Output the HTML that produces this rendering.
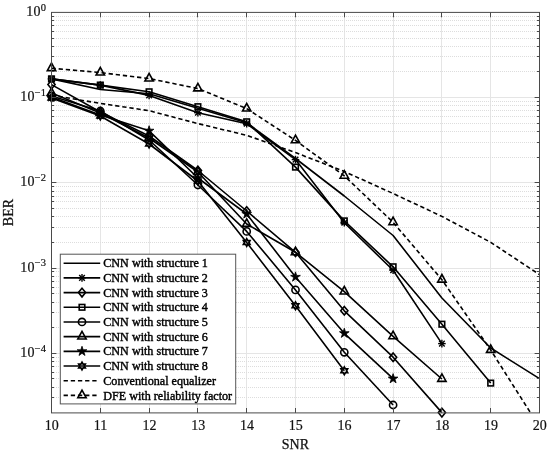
<!DOCTYPE html>
<html><head><meta charset="utf-8"><title>BER vs SNR</title>
<style>html,body{margin:0;padding:0;background:#fff;overflow:hidden}body{width:550px;height:453px;position:relative}</style></head>
<body>
<svg width="550" height="453" viewBox="0 0 550 453" style="display:block;position:absolute;left:0;top:0" font-family="'Liberation Serif', serif">
<rect width="550" height="453" fill="#fff"/>
<line x1="100.50" y1="12.4" x2="100.50" y2="412.9" stroke="#e5e5e5" stroke-width="1"/>
<line x1="149.50" y1="12.4" x2="149.50" y2="412.9" stroke="#e5e5e5" stroke-width="1"/>
<line x1="197.50" y1="12.4" x2="197.50" y2="412.9" stroke="#e5e5e5" stroke-width="1"/>
<line x1="246.50" y1="12.4" x2="246.50" y2="412.9" stroke="#e5e5e5" stroke-width="1"/>
<line x1="295.50" y1="12.4" x2="295.50" y2="412.9" stroke="#e5e5e5" stroke-width="1"/>
<line x1="344.50" y1="12.4" x2="344.50" y2="412.9" stroke="#e5e5e5" stroke-width="1"/>
<line x1="393.50" y1="12.4" x2="393.50" y2="412.9" stroke="#e5e5e5" stroke-width="1"/>
<line x1="441.50" y1="12.4" x2="441.50" y2="412.9" stroke="#e5e5e5" stroke-width="1"/>
<line x1="490.50" y1="12.4" x2="490.50" y2="412.9" stroke="#e5e5e5" stroke-width="1"/>
<line x1="52" y1="71.50" x2="539.5" y2="71.50" stroke="#dddddd" stroke-width="1" stroke-dasharray="1 1"/>
<line x1="52" y1="56.50" x2="539.5" y2="56.50" stroke="#dddddd" stroke-width="1" stroke-dasharray="1 1"/>
<line x1="52" y1="46.50" x2="539.5" y2="46.50" stroke="#dddddd" stroke-width="1" stroke-dasharray="1 1"/>
<line x1="52" y1="38.50" x2="539.5" y2="38.50" stroke="#dddddd" stroke-width="1" stroke-dasharray="1 1"/>
<line x1="52" y1="31.50" x2="539.5" y2="31.50" stroke="#dddddd" stroke-width="1" stroke-dasharray="1 1"/>
<line x1="52" y1="25.50" x2="539.5" y2="25.50" stroke="#dddddd" stroke-width="1" stroke-dasharray="1 1"/>
<line x1="52" y1="20.50" x2="539.5" y2="20.50" stroke="#dddddd" stroke-width="1" stroke-dasharray="1 1"/>
<line x1="52" y1="16.50" x2="539.5" y2="16.50" stroke="#dddddd" stroke-width="1" stroke-dasharray="1 1"/>
<line x1="51.5" y1="97.50" x2="539.5" y2="97.50" stroke="#e5e5e5" stroke-width="1"/>
<line x1="52" y1="157.50" x2="539.5" y2="157.50" stroke="#dddddd" stroke-width="1" stroke-dasharray="1 1"/>
<line x1="52" y1="142.50" x2="539.5" y2="142.50" stroke="#dddddd" stroke-width="1" stroke-dasharray="1 1"/>
<line x1="52" y1="131.50" x2="539.5" y2="131.50" stroke="#dddddd" stroke-width="1" stroke-dasharray="1 1"/>
<line x1="52" y1="123.50" x2="539.5" y2="123.50" stroke="#dddddd" stroke-width="1" stroke-dasharray="1 1"/>
<line x1="52" y1="116.50" x2="539.5" y2="116.50" stroke="#dddddd" stroke-width="1" stroke-dasharray="1 1"/>
<line x1="52" y1="110.50" x2="539.5" y2="110.50" stroke="#dddddd" stroke-width="1" stroke-dasharray="1 1"/>
<line x1="52" y1="105.50" x2="539.5" y2="105.50" stroke="#dddddd" stroke-width="1" stroke-dasharray="1 1"/>
<line x1="52" y1="101.50" x2="539.5" y2="101.50" stroke="#dddddd" stroke-width="1" stroke-dasharray="1 1"/>
<line x1="51.5" y1="182.50" x2="539.5" y2="182.50" stroke="#e5e5e5" stroke-width="1"/>
<line x1="52" y1="242.50" x2="539.5" y2="242.50" stroke="#dddddd" stroke-width="1" stroke-dasharray="1 1"/>
<line x1="52" y1="227.50" x2="539.5" y2="227.50" stroke="#dddddd" stroke-width="1" stroke-dasharray="1 1"/>
<line x1="52" y1="216.50" x2="539.5" y2="216.50" stroke="#dddddd" stroke-width="1" stroke-dasharray="1 1"/>
<line x1="52" y1="208.50" x2="539.5" y2="208.50" stroke="#dddddd" stroke-width="1" stroke-dasharray="1 1"/>
<line x1="52" y1="201.50" x2="539.5" y2="201.50" stroke="#dddddd" stroke-width="1" stroke-dasharray="1 1"/>
<line x1="52" y1="196.50" x2="539.5" y2="196.50" stroke="#dddddd" stroke-width="1" stroke-dasharray="1 1"/>
<line x1="52" y1="191.50" x2="539.5" y2="191.50" stroke="#dddddd" stroke-width="1" stroke-dasharray="1 1"/>
<line x1="52" y1="186.50" x2="539.5" y2="186.50" stroke="#dddddd" stroke-width="1" stroke-dasharray="1 1"/>
<line x1="51.5" y1="268.50" x2="539.5" y2="268.50" stroke="#e5e5e5" stroke-width="1"/>
<line x1="52" y1="327.50" x2="539.5" y2="327.50" stroke="#dddddd" stroke-width="1" stroke-dasharray="1 1"/>
<line x1="52" y1="312.50" x2="539.5" y2="312.50" stroke="#dddddd" stroke-width="1" stroke-dasharray="1 1"/>
<line x1="52" y1="302.50" x2="539.5" y2="302.50" stroke="#dddddd" stroke-width="1" stroke-dasharray="1 1"/>
<line x1="52" y1="293.50" x2="539.5" y2="293.50" stroke="#dddddd" stroke-width="1" stroke-dasharray="1 1"/>
<line x1="52" y1="287.50" x2="539.5" y2="287.50" stroke="#dddddd" stroke-width="1" stroke-dasharray="1 1"/>
<line x1="52" y1="281.50" x2="539.5" y2="281.50" stroke="#dddddd" stroke-width="1" stroke-dasharray="1 1"/>
<line x1="52" y1="276.50" x2="539.5" y2="276.50" stroke="#dddddd" stroke-width="1" stroke-dasharray="1 1"/>
<line x1="52" y1="271.50" x2="539.5" y2="271.50" stroke="#dddddd" stroke-width="1" stroke-dasharray="1 1"/>
<line x1="51.5" y1="353.50" x2="539.5" y2="353.50" stroke="#e5e5e5" stroke-width="1"/>
<line x1="52" y1="397.50" x2="539.5" y2="397.50" stroke="#dddddd" stroke-width="1" stroke-dasharray="1 1"/>
<line x1="52" y1="387.50" x2="539.5" y2="387.50" stroke="#dddddd" stroke-width="1" stroke-dasharray="1 1"/>
<line x1="52" y1="378.50" x2="539.5" y2="378.50" stroke="#dddddd" stroke-width="1" stroke-dasharray="1 1"/>
<line x1="52" y1="372.50" x2="539.5" y2="372.50" stroke="#dddddd" stroke-width="1" stroke-dasharray="1 1"/>
<line x1="52" y1="366.50" x2="539.5" y2="366.50" stroke="#dddddd" stroke-width="1" stroke-dasharray="1 1"/>
<line x1="52" y1="361.50" x2="539.5" y2="361.50" stroke="#dddddd" stroke-width="1" stroke-dasharray="1 1"/>
<line x1="52" y1="357.50" x2="539.5" y2="357.50" stroke="#dddddd" stroke-width="1" stroke-dasharray="1 1"/>
<clipPath id="c"><rect x="51.5" y="12.4" width="488.0" height="401.3"/></clipPath>
<polyline points="51.50,78.90 100.30,89.50 149.10,93.80 197.90,108.30 246.70,122.80 295.50,158.50 344.30,196.00 393.10,235.50 441.90,298.00 490.70,348.00 539.50,378.60" fill="none" stroke="#000" stroke-width="1.6" stroke-linejoin="round" clip-path="url(#c)"/>
<polyline points="51.50,78.90 100.30,85.10 149.10,95.40 197.90,112.70 246.70,123.80 295.50,159.60 344.30,222.80 393.10,270.20 441.90,343.60" fill="none" stroke="#000" stroke-width="1.6" stroke-linejoin="round" clip-path="url(#c)"/>
<polyline points="51.50,84.60 100.30,112.00 149.10,136.00 197.90,170.50 246.70,211.00 295.50,252.30 344.30,310.80 393.10,357.20 441.90,412.60" fill="none" stroke="#000" stroke-width="1.6" stroke-linejoin="round" clip-path="url(#c)"/>
<polyline points="51.50,78.90 100.30,85.10 149.10,91.80 197.90,106.70 246.70,121.80 295.50,167.10 344.30,220.90 393.10,266.80 441.90,324.20 490.70,383.10" fill="none" stroke="#000" stroke-width="1.6" stroke-linejoin="round" clip-path="url(#c)"/>
<polyline points="51.50,95.90 100.30,111.00 149.10,140.00 197.90,185.00 246.70,231.40 295.50,289.90 344.30,352.30 393.10,405.00" fill="none" stroke="#000" stroke-width="1.6" stroke-linejoin="round" clip-path="url(#c)"/>
<polyline points="51.50,93.00 100.30,113.00 149.10,138.00 197.90,172.00 246.70,224.00 295.50,252.30 344.30,291.60 393.10,336.30 441.90,379.00" fill="none" stroke="#000" stroke-width="1.6" stroke-linejoin="round" clip-path="url(#c)"/>
<polyline points="51.50,97.00 100.30,115.00 149.10,130.80 197.90,178.00 246.70,214.00 295.50,277.00 344.30,333.30 393.10,378.70" fill="none" stroke="#000" stroke-width="1.6" stroke-linejoin="round" clip-path="url(#c)"/>
<polyline points="51.50,98.00 100.30,116.00 149.10,144.00 197.90,181.00 246.70,242.50 295.50,305.80 344.30,370.80" fill="none" stroke="#000" stroke-width="1.6" stroke-linejoin="round" clip-path="url(#c)"/>
<polyline points="51.50,95.20 100.30,103.40 149.10,110.70 197.90,123.60 246.70,135.30 295.50,152.60 344.30,171.50 393.10,193.50 441.90,216.40 490.70,242.30 539.50,274.60" fill="none" stroke="#000" stroke-width="1.6" stroke-linejoin="round" stroke-dasharray="4.3 2.87" clip-path="url(#c)"/>
<polyline points="51.50,68.20 100.30,72.60 149.10,78.60 197.90,88.50 246.70,108.60 295.50,140.40 344.30,175.80 393.10,222.30 441.90,279.70 490.70,350.00 539.50,427.00" fill="none" stroke="#000" stroke-width="1.6" stroke-linejoin="round" stroke-dasharray="4.3 2.87" clip-path="url(#c)"/>
<line x1="47.70" y1="78.90" x2="55.30" y2="78.90" stroke="#000" stroke-width="1.4"/><line x1="51.50" y1="75.10" x2="51.50" y2="82.70" stroke="#000" stroke-width="1.4"/><line x1="48.70" y1="76.10" x2="54.30" y2="81.70" stroke="#000" stroke-width="1.4"/><line x1="48.70" y1="81.70" x2="54.30" y2="76.10" stroke="#000" stroke-width="1.4"/>
<line x1="96.50" y1="85.10" x2="104.10" y2="85.10" stroke="#000" stroke-width="1.4"/><line x1="100.30" y1="81.30" x2="100.30" y2="88.90" stroke="#000" stroke-width="1.4"/><line x1="97.50" y1="82.30" x2="103.10" y2="87.90" stroke="#000" stroke-width="1.4"/><line x1="97.50" y1="87.90" x2="103.10" y2="82.30" stroke="#000" stroke-width="1.4"/>
<line x1="145.30" y1="95.40" x2="152.90" y2="95.40" stroke="#000" stroke-width="1.4"/><line x1="149.10" y1="91.60" x2="149.10" y2="99.20" stroke="#000" stroke-width="1.4"/><line x1="146.30" y1="92.60" x2="151.90" y2="98.20" stroke="#000" stroke-width="1.4"/><line x1="146.30" y1="98.20" x2="151.90" y2="92.60" stroke="#000" stroke-width="1.4"/>
<line x1="194.10" y1="112.70" x2="201.70" y2="112.70" stroke="#000" stroke-width="1.4"/><line x1="197.90" y1="108.90" x2="197.90" y2="116.50" stroke="#000" stroke-width="1.4"/><line x1="195.10" y1="109.90" x2="200.70" y2="115.50" stroke="#000" stroke-width="1.4"/><line x1="195.10" y1="115.50" x2="200.70" y2="109.90" stroke="#000" stroke-width="1.4"/>
<line x1="242.90" y1="123.80" x2="250.50" y2="123.80" stroke="#000" stroke-width="1.4"/><line x1="246.70" y1="120.00" x2="246.70" y2="127.60" stroke="#000" stroke-width="1.4"/><line x1="243.90" y1="121.00" x2="249.50" y2="126.60" stroke="#000" stroke-width="1.4"/><line x1="243.90" y1="126.60" x2="249.50" y2="121.00" stroke="#000" stroke-width="1.4"/>
<line x1="291.70" y1="159.60" x2="299.30" y2="159.60" stroke="#000" stroke-width="1.4"/><line x1="295.50" y1="155.80" x2="295.50" y2="163.40" stroke="#000" stroke-width="1.4"/><line x1="292.70" y1="156.80" x2="298.30" y2="162.40" stroke="#000" stroke-width="1.4"/><line x1="292.70" y1="162.40" x2="298.30" y2="156.80" stroke="#000" stroke-width="1.4"/>
<line x1="340.50" y1="222.80" x2="348.10" y2="222.80" stroke="#000" stroke-width="1.4"/><line x1="344.30" y1="219.00" x2="344.30" y2="226.60" stroke="#000" stroke-width="1.4"/><line x1="341.50" y1="220.00" x2="347.10" y2="225.60" stroke="#000" stroke-width="1.4"/><line x1="341.50" y1="225.60" x2="347.10" y2="220.00" stroke="#000" stroke-width="1.4"/>
<line x1="389.30" y1="270.20" x2="396.90" y2="270.20" stroke="#000" stroke-width="1.4"/><line x1="393.10" y1="266.40" x2="393.10" y2="274.00" stroke="#000" stroke-width="1.4"/><line x1="390.30" y1="267.40" x2="395.90" y2="273.00" stroke="#000" stroke-width="1.4"/><line x1="390.30" y1="273.00" x2="395.90" y2="267.40" stroke="#000" stroke-width="1.4"/>
<line x1="438.10" y1="343.60" x2="445.70" y2="343.60" stroke="#000" stroke-width="1.4"/><line x1="441.90" y1="339.80" x2="441.90" y2="347.40" stroke="#000" stroke-width="1.4"/><line x1="439.10" y1="340.80" x2="444.70" y2="346.40" stroke="#000" stroke-width="1.4"/><line x1="439.10" y1="346.40" x2="444.70" y2="340.80" stroke="#000" stroke-width="1.4"/>
<polygon points="51.50,80.30 55.10,84.60 51.50,88.90 47.90,84.60" fill="none" stroke="#000" stroke-width="1.6"/>
<polygon points="100.30,107.70 103.90,112.00 100.30,116.30 96.70,112.00" fill="none" stroke="#000" stroke-width="1.6"/>
<polygon points="149.10,131.70 152.70,136.00 149.10,140.30 145.50,136.00" fill="none" stroke="#000" stroke-width="1.6"/>
<polygon points="197.90,166.20 201.50,170.50 197.90,174.80 194.30,170.50" fill="none" stroke="#000" stroke-width="1.6"/>
<polygon points="246.70,206.70 250.30,211.00 246.70,215.30 243.10,211.00" fill="none" stroke="#000" stroke-width="1.6"/>
<polygon points="295.50,248.00 299.10,252.30 295.50,256.60 291.90,252.30" fill="none" stroke="#000" stroke-width="1.6"/>
<polygon points="344.30,306.50 347.90,310.80 344.30,315.10 340.70,310.80" fill="none" stroke="#000" stroke-width="1.6"/>
<polygon points="393.10,352.90 396.70,357.20 393.10,361.50 389.50,357.20" fill="none" stroke="#000" stroke-width="1.6"/>
<polygon points="441.90,408.30 445.50,412.60 441.90,416.90 438.30,412.60" fill="none" stroke="#000" stroke-width="1.6"/>
<rect x="48.70" y="76.10" width="5.60" height="5.60" fill="none" stroke="#000" stroke-width="1.6"/>
<rect x="97.50" y="82.30" width="5.60" height="5.60" fill="none" stroke="#000" stroke-width="1.6"/>
<rect x="146.30" y="89.00" width="5.60" height="5.60" fill="none" stroke="#000" stroke-width="1.6"/>
<rect x="195.10" y="103.90" width="5.60" height="5.60" fill="none" stroke="#000" stroke-width="1.6"/>
<rect x="243.90" y="119.00" width="5.60" height="5.60" fill="none" stroke="#000" stroke-width="1.6"/>
<rect x="292.70" y="164.30" width="5.60" height="5.60" fill="none" stroke="#000" stroke-width="1.6"/>
<rect x="341.50" y="218.10" width="5.60" height="5.60" fill="none" stroke="#000" stroke-width="1.6"/>
<rect x="390.30" y="264.00" width="5.60" height="5.60" fill="none" stroke="#000" stroke-width="1.6"/>
<rect x="439.10" y="321.40" width="5.60" height="5.60" fill="none" stroke="#000" stroke-width="1.6"/>
<rect x="487.90" y="380.30" width="5.60" height="5.60" fill="none" stroke="#000" stroke-width="1.6"/>
<circle cx="51.50" cy="95.90" r="3.6" fill="none" stroke="#000" stroke-width="1.6"/>
<circle cx="100.30" cy="111.00" r="3.6" fill="none" stroke="#000" stroke-width="1.6"/>
<circle cx="149.10" cy="140.00" r="3.6" fill="none" stroke="#000" stroke-width="1.6"/>
<circle cx="197.90" cy="185.00" r="3.6" fill="none" stroke="#000" stroke-width="1.6"/>
<circle cx="246.70" cy="231.40" r="3.6" fill="none" stroke="#000" stroke-width="1.6"/>
<circle cx="295.50" cy="289.90" r="3.6" fill="none" stroke="#000" stroke-width="1.6"/>
<circle cx="344.30" cy="352.30" r="3.6" fill="none" stroke="#000" stroke-width="1.6"/>
<circle cx="393.10" cy="405.00" r="3.6" fill="none" stroke="#000" stroke-width="1.6"/>
<polygon points="51.50,87.80 55.70,95.40 47.30,95.40" fill="none" stroke="#000" stroke-width="1.6"/>
<polygon points="100.30,107.80 104.50,115.40 96.10,115.40" fill="none" stroke="#000" stroke-width="1.6"/>
<polygon points="149.10,132.80 153.30,140.40 144.90,140.40" fill="none" stroke="#000" stroke-width="1.6"/>
<polygon points="197.90,166.80 202.10,174.40 193.70,174.40" fill="none" stroke="#000" stroke-width="1.6"/>
<polygon points="246.70,218.80 250.90,226.40 242.50,226.40" fill="none" stroke="#000" stroke-width="1.6"/>
<polygon points="295.50,247.10 299.70,254.70 291.30,254.70" fill="none" stroke="#000" stroke-width="1.6"/>
<polygon points="344.30,286.40 348.50,294.00 340.10,294.00" fill="none" stroke="#000" stroke-width="1.6"/>
<polygon points="393.10,331.10 397.30,338.70 388.90,338.70" fill="none" stroke="#000" stroke-width="1.6"/>
<polygon points="441.90,373.80 446.10,381.40 437.70,381.40" fill="none" stroke="#000" stroke-width="1.6"/>
<polygon points="51.50,91.90 52.65,95.42 56.35,95.42 53.35,97.60 54.50,101.13 51.50,98.95 48.50,101.13 49.65,97.60 46.65,95.42 50.35,95.42" fill="#000" stroke="#000" stroke-width="0.8"/>
<polygon points="100.30,109.90 101.45,113.42 105.15,113.42 102.15,115.60 103.30,119.13 100.30,116.95 97.30,119.13 98.45,115.60 95.45,113.42 99.15,113.42" fill="#000" stroke="#000" stroke-width="0.8"/>
<polygon points="149.10,125.70 150.25,129.22 153.95,129.22 150.95,131.40 152.10,134.93 149.10,132.75 146.10,134.93 147.25,131.40 144.25,129.22 147.95,129.22" fill="#000" stroke="#000" stroke-width="0.8"/>
<polygon points="197.90,172.90 199.05,176.42 202.75,176.42 199.75,178.60 200.90,182.13 197.90,179.95 194.90,182.13 196.05,178.60 193.05,176.42 196.75,176.42" fill="#000" stroke="#000" stroke-width="0.8"/>
<polygon points="246.70,208.90 247.85,212.42 251.55,212.42 248.55,214.60 249.70,218.13 246.70,215.95 243.70,218.13 244.85,214.60 241.85,212.42 245.55,212.42" fill="#000" stroke="#000" stroke-width="0.8"/>
<polygon points="295.50,271.90 296.65,275.42 300.35,275.42 297.35,277.60 298.50,281.13 295.50,278.95 292.50,281.13 293.65,277.60 290.65,275.42 294.35,275.42" fill="#000" stroke="#000" stroke-width="0.8"/>
<polygon points="344.30,328.20 345.45,331.72 349.15,331.72 346.15,333.90 347.30,337.43 344.30,335.25 341.30,337.43 342.45,333.90 339.45,331.72 343.15,331.72" fill="#000" stroke="#000" stroke-width="0.8"/>
<polygon points="393.10,373.60 394.25,377.12 397.95,377.12 394.95,379.30 396.10,382.83 393.10,380.65 390.10,382.83 391.25,379.30 388.25,377.12 391.95,377.12" fill="#000" stroke="#000" stroke-width="0.8"/>
<polygon points="51.50,94.20 52.60,96.10 54.79,96.10 53.69,98.00 54.79,99.90 52.60,99.90 51.50,101.80 50.40,99.90 48.21,99.90 49.31,98.00 48.21,96.10 50.40,96.10" fill="none" stroke="#000" stroke-width="1.7"/>
<polygon points="100.30,112.20 101.40,114.10 103.59,114.10 102.49,116.00 103.59,117.90 101.40,117.90 100.30,119.80 99.20,117.90 97.01,117.90 98.11,116.00 97.01,114.10 99.20,114.10" fill="none" stroke="#000" stroke-width="1.7"/>
<polygon points="149.10,140.20 150.20,142.10 152.39,142.10 151.29,144.00 152.39,145.90 150.20,145.90 149.10,147.80 148.00,145.90 145.81,145.90 146.91,144.00 145.81,142.10 148.00,142.10" fill="none" stroke="#000" stroke-width="1.7"/>
<polygon points="197.90,177.20 199.00,179.10 201.19,179.10 200.09,181.00 201.19,182.90 199.00,182.90 197.90,184.80 196.80,182.90 194.61,182.90 195.71,181.00 194.61,179.10 196.80,179.10" fill="none" stroke="#000" stroke-width="1.7"/>
<polygon points="246.70,238.70 247.80,240.60 249.99,240.60 248.89,242.50 249.99,244.40 247.80,244.40 246.70,246.30 245.60,244.40 243.41,244.40 244.51,242.50 243.41,240.60 245.60,240.60" fill="none" stroke="#000" stroke-width="1.7"/>
<polygon points="295.50,302.00 296.60,303.90 298.79,303.90 297.69,305.80 298.79,307.70 296.60,307.70 295.50,309.60 294.40,307.70 292.21,307.70 293.31,305.80 292.21,303.90 294.40,303.90" fill="none" stroke="#000" stroke-width="1.7"/>
<polygon points="344.30,367.00 345.40,368.90 347.59,368.90 346.49,370.80 347.59,372.70 345.40,372.70 344.30,374.60 343.20,372.70 341.01,372.70 342.11,370.80 341.01,368.90 343.20,368.90" fill="none" stroke="#000" stroke-width="1.7"/>
<polygon points="51.50,63.00 55.70,70.60 47.30,70.60" fill="none" stroke="#000" stroke-width="1.6"/>
<polygon points="100.30,67.40 104.50,75.00 96.10,75.00" fill="none" stroke="#000" stroke-width="1.6"/>
<polygon points="149.10,73.40 153.30,81.00 144.90,81.00" fill="none" stroke="#000" stroke-width="1.6"/>
<polygon points="197.90,83.30 202.10,90.90 193.70,90.90" fill="none" stroke="#000" stroke-width="1.6"/>
<polygon points="246.70,103.40 250.90,111.00 242.50,111.00" fill="none" stroke="#000" stroke-width="1.6"/>
<polygon points="295.50,135.20 299.70,142.80 291.30,142.80" fill="none" stroke="#000" stroke-width="1.6"/>
<polygon points="344.30,170.60 348.50,178.20 340.10,178.20" fill="none" stroke="#000" stroke-width="1.6"/>
<polygon points="393.10,217.10 397.30,224.70 388.90,224.70" fill="none" stroke="#000" stroke-width="1.6"/>
<polygon points="441.90,274.50 446.10,282.10 437.70,282.10" fill="none" stroke="#000" stroke-width="1.6"/>
<polygon points="490.70,344.80 494.90,352.40 486.50,352.40" fill="none" stroke="#000" stroke-width="1.6"/>
<rect x="51.5" y="12.4" width="488.0" height="400.5" fill="none" stroke="#4a4a4a" stroke-width="1"/>
<line x1="100.50" y1="412.9" x2="100.50" y2="408.0" stroke="#4a4a4a" stroke-width="1"/>
<line x1="100.50" y1="12.4" x2="100.50" y2="17.3" stroke="#4a4a4a" stroke-width="1"/>
<line x1="149.50" y1="412.9" x2="149.50" y2="408.0" stroke="#4a4a4a" stroke-width="1"/>
<line x1="149.50" y1="12.4" x2="149.50" y2="17.3" stroke="#4a4a4a" stroke-width="1"/>
<line x1="197.50" y1="412.9" x2="197.50" y2="408.0" stroke="#4a4a4a" stroke-width="1"/>
<line x1="197.50" y1="12.4" x2="197.50" y2="17.3" stroke="#4a4a4a" stroke-width="1"/>
<line x1="246.50" y1="412.9" x2="246.50" y2="408.0" stroke="#4a4a4a" stroke-width="1"/>
<line x1="246.50" y1="12.4" x2="246.50" y2="17.3" stroke="#4a4a4a" stroke-width="1"/>
<line x1="295.50" y1="412.9" x2="295.50" y2="408.0" stroke="#4a4a4a" stroke-width="1"/>
<line x1="295.50" y1="12.4" x2="295.50" y2="17.3" stroke="#4a4a4a" stroke-width="1"/>
<line x1="344.50" y1="412.9" x2="344.50" y2="408.0" stroke="#4a4a4a" stroke-width="1"/>
<line x1="344.50" y1="12.4" x2="344.50" y2="17.3" stroke="#4a4a4a" stroke-width="1"/>
<line x1="393.50" y1="412.9" x2="393.50" y2="408.0" stroke="#4a4a4a" stroke-width="1"/>
<line x1="393.50" y1="12.4" x2="393.50" y2="17.3" stroke="#4a4a4a" stroke-width="1"/>
<line x1="441.50" y1="412.9" x2="441.50" y2="408.0" stroke="#4a4a4a" stroke-width="1"/>
<line x1="441.50" y1="12.4" x2="441.50" y2="17.3" stroke="#4a4a4a" stroke-width="1"/>
<line x1="490.50" y1="412.9" x2="490.50" y2="408.0" stroke="#4a4a4a" stroke-width="1"/>
<line x1="490.50" y1="12.4" x2="490.50" y2="17.3" stroke="#4a4a4a" stroke-width="1"/>
<line x1="51.5" y1="71.50" x2="54.0" y2="71.50" stroke="#4a4a4a" stroke-width="1"/>
<line x1="539.5" y1="71.50" x2="537.0" y2="71.50" stroke="#4a4a4a" stroke-width="1"/>
<line x1="51.5" y1="56.50" x2="54.0" y2="56.50" stroke="#4a4a4a" stroke-width="1"/>
<line x1="539.5" y1="56.50" x2="537.0" y2="56.50" stroke="#4a4a4a" stroke-width="1"/>
<line x1="51.5" y1="46.50" x2="54.0" y2="46.50" stroke="#4a4a4a" stroke-width="1"/>
<line x1="539.5" y1="46.50" x2="537.0" y2="46.50" stroke="#4a4a4a" stroke-width="1"/>
<line x1="51.5" y1="38.50" x2="54.0" y2="38.50" stroke="#4a4a4a" stroke-width="1"/>
<line x1="539.5" y1="38.50" x2="537.0" y2="38.50" stroke="#4a4a4a" stroke-width="1"/>
<line x1="51.5" y1="31.50" x2="54.0" y2="31.50" stroke="#4a4a4a" stroke-width="1"/>
<line x1="539.5" y1="31.50" x2="537.0" y2="31.50" stroke="#4a4a4a" stroke-width="1"/>
<line x1="51.5" y1="25.50" x2="54.0" y2="25.50" stroke="#4a4a4a" stroke-width="1"/>
<line x1="539.5" y1="25.50" x2="537.0" y2="25.50" stroke="#4a4a4a" stroke-width="1"/>
<line x1="51.5" y1="20.50" x2="54.0" y2="20.50" stroke="#4a4a4a" stroke-width="1"/>
<line x1="539.5" y1="20.50" x2="537.0" y2="20.50" stroke="#4a4a4a" stroke-width="1"/>
<line x1="51.5" y1="16.50" x2="54.0" y2="16.50" stroke="#4a4a4a" stroke-width="1"/>
<line x1="539.5" y1="16.50" x2="537.0" y2="16.50" stroke="#4a4a4a" stroke-width="1"/>
<line x1="51.5" y1="97.50" x2="56.4" y2="97.50" stroke="#4a4a4a" stroke-width="1"/>
<line x1="539.5" y1="97.50" x2="534.6" y2="97.50" stroke="#4a4a4a" stroke-width="1"/>
<line x1="51.5" y1="157.50" x2="54.0" y2="157.50" stroke="#4a4a4a" stroke-width="1"/>
<line x1="539.5" y1="157.50" x2="537.0" y2="157.50" stroke="#4a4a4a" stroke-width="1"/>
<line x1="51.5" y1="142.50" x2="54.0" y2="142.50" stroke="#4a4a4a" stroke-width="1"/>
<line x1="539.5" y1="142.50" x2="537.0" y2="142.50" stroke="#4a4a4a" stroke-width="1"/>
<line x1="51.5" y1="131.50" x2="54.0" y2="131.50" stroke="#4a4a4a" stroke-width="1"/>
<line x1="539.5" y1="131.50" x2="537.0" y2="131.50" stroke="#4a4a4a" stroke-width="1"/>
<line x1="51.5" y1="123.50" x2="54.0" y2="123.50" stroke="#4a4a4a" stroke-width="1"/>
<line x1="539.5" y1="123.50" x2="537.0" y2="123.50" stroke="#4a4a4a" stroke-width="1"/>
<line x1="51.5" y1="116.50" x2="54.0" y2="116.50" stroke="#4a4a4a" stroke-width="1"/>
<line x1="539.5" y1="116.50" x2="537.0" y2="116.50" stroke="#4a4a4a" stroke-width="1"/>
<line x1="51.5" y1="110.50" x2="54.0" y2="110.50" stroke="#4a4a4a" stroke-width="1"/>
<line x1="539.5" y1="110.50" x2="537.0" y2="110.50" stroke="#4a4a4a" stroke-width="1"/>
<line x1="51.5" y1="105.50" x2="54.0" y2="105.50" stroke="#4a4a4a" stroke-width="1"/>
<line x1="539.5" y1="105.50" x2="537.0" y2="105.50" stroke="#4a4a4a" stroke-width="1"/>
<line x1="51.5" y1="101.50" x2="54.0" y2="101.50" stroke="#4a4a4a" stroke-width="1"/>
<line x1="539.5" y1="101.50" x2="537.0" y2="101.50" stroke="#4a4a4a" stroke-width="1"/>
<line x1="51.5" y1="182.50" x2="56.4" y2="182.50" stroke="#4a4a4a" stroke-width="1"/>
<line x1="539.5" y1="182.50" x2="534.6" y2="182.50" stroke="#4a4a4a" stroke-width="1"/>
<line x1="51.5" y1="242.50" x2="54.0" y2="242.50" stroke="#4a4a4a" stroke-width="1"/>
<line x1="539.5" y1="242.50" x2="537.0" y2="242.50" stroke="#4a4a4a" stroke-width="1"/>
<line x1="51.5" y1="227.50" x2="54.0" y2="227.50" stroke="#4a4a4a" stroke-width="1"/>
<line x1="539.5" y1="227.50" x2="537.0" y2="227.50" stroke="#4a4a4a" stroke-width="1"/>
<line x1="51.5" y1="216.50" x2="54.0" y2="216.50" stroke="#4a4a4a" stroke-width="1"/>
<line x1="539.5" y1="216.50" x2="537.0" y2="216.50" stroke="#4a4a4a" stroke-width="1"/>
<line x1="51.5" y1="208.50" x2="54.0" y2="208.50" stroke="#4a4a4a" stroke-width="1"/>
<line x1="539.5" y1="208.50" x2="537.0" y2="208.50" stroke="#4a4a4a" stroke-width="1"/>
<line x1="51.5" y1="201.50" x2="54.0" y2="201.50" stroke="#4a4a4a" stroke-width="1"/>
<line x1="539.5" y1="201.50" x2="537.0" y2="201.50" stroke="#4a4a4a" stroke-width="1"/>
<line x1="51.5" y1="196.50" x2="54.0" y2="196.50" stroke="#4a4a4a" stroke-width="1"/>
<line x1="539.5" y1="196.50" x2="537.0" y2="196.50" stroke="#4a4a4a" stroke-width="1"/>
<line x1="51.5" y1="191.50" x2="54.0" y2="191.50" stroke="#4a4a4a" stroke-width="1"/>
<line x1="539.5" y1="191.50" x2="537.0" y2="191.50" stroke="#4a4a4a" stroke-width="1"/>
<line x1="51.5" y1="186.50" x2="54.0" y2="186.50" stroke="#4a4a4a" stroke-width="1"/>
<line x1="539.5" y1="186.50" x2="537.0" y2="186.50" stroke="#4a4a4a" stroke-width="1"/>
<line x1="51.5" y1="268.50" x2="56.4" y2="268.50" stroke="#4a4a4a" stroke-width="1"/>
<line x1="539.5" y1="268.50" x2="534.6" y2="268.50" stroke="#4a4a4a" stroke-width="1"/>
<line x1="51.5" y1="327.50" x2="54.0" y2="327.50" stroke="#4a4a4a" stroke-width="1"/>
<line x1="539.5" y1="327.50" x2="537.0" y2="327.50" stroke="#4a4a4a" stroke-width="1"/>
<line x1="51.5" y1="312.50" x2="54.0" y2="312.50" stroke="#4a4a4a" stroke-width="1"/>
<line x1="539.5" y1="312.50" x2="537.0" y2="312.50" stroke="#4a4a4a" stroke-width="1"/>
<line x1="51.5" y1="302.50" x2="54.0" y2="302.50" stroke="#4a4a4a" stroke-width="1"/>
<line x1="539.5" y1="302.50" x2="537.0" y2="302.50" stroke="#4a4a4a" stroke-width="1"/>
<line x1="51.5" y1="293.50" x2="54.0" y2="293.50" stroke="#4a4a4a" stroke-width="1"/>
<line x1="539.5" y1="293.50" x2="537.0" y2="293.50" stroke="#4a4a4a" stroke-width="1"/>
<line x1="51.5" y1="287.50" x2="54.0" y2="287.50" stroke="#4a4a4a" stroke-width="1"/>
<line x1="539.5" y1="287.50" x2="537.0" y2="287.50" stroke="#4a4a4a" stroke-width="1"/>
<line x1="51.5" y1="281.50" x2="54.0" y2="281.50" stroke="#4a4a4a" stroke-width="1"/>
<line x1="539.5" y1="281.50" x2="537.0" y2="281.50" stroke="#4a4a4a" stroke-width="1"/>
<line x1="51.5" y1="276.50" x2="54.0" y2="276.50" stroke="#4a4a4a" stroke-width="1"/>
<line x1="539.5" y1="276.50" x2="537.0" y2="276.50" stroke="#4a4a4a" stroke-width="1"/>
<line x1="51.5" y1="271.50" x2="54.0" y2="271.50" stroke="#4a4a4a" stroke-width="1"/>
<line x1="539.5" y1="271.50" x2="537.0" y2="271.50" stroke="#4a4a4a" stroke-width="1"/>
<line x1="51.5" y1="353.50" x2="56.4" y2="353.50" stroke="#4a4a4a" stroke-width="1"/>
<line x1="539.5" y1="353.50" x2="534.6" y2="353.50" stroke="#4a4a4a" stroke-width="1"/>
<line x1="51.5" y1="397.50" x2="54.0" y2="397.50" stroke="#4a4a4a" stroke-width="1"/>
<line x1="539.5" y1="397.50" x2="537.0" y2="397.50" stroke="#4a4a4a" stroke-width="1"/>
<line x1="51.5" y1="387.50" x2="54.0" y2="387.50" stroke="#4a4a4a" stroke-width="1"/>
<line x1="539.5" y1="387.50" x2="537.0" y2="387.50" stroke="#4a4a4a" stroke-width="1"/>
<line x1="51.5" y1="378.50" x2="54.0" y2="378.50" stroke="#4a4a4a" stroke-width="1"/>
<line x1="539.5" y1="378.50" x2="537.0" y2="378.50" stroke="#4a4a4a" stroke-width="1"/>
<line x1="51.5" y1="372.50" x2="54.0" y2="372.50" stroke="#4a4a4a" stroke-width="1"/>
<line x1="539.5" y1="372.50" x2="537.0" y2="372.50" stroke="#4a4a4a" stroke-width="1"/>
<line x1="51.5" y1="366.50" x2="54.0" y2="366.50" stroke="#4a4a4a" stroke-width="1"/>
<line x1="539.5" y1="366.50" x2="537.0" y2="366.50" stroke="#4a4a4a" stroke-width="1"/>
<line x1="51.5" y1="361.50" x2="54.0" y2="361.50" stroke="#4a4a4a" stroke-width="1"/>
<line x1="539.5" y1="361.50" x2="537.0" y2="361.50" stroke="#4a4a4a" stroke-width="1"/>
<line x1="51.5" y1="357.50" x2="54.0" y2="357.50" stroke="#4a4a4a" stroke-width="1"/>
<line x1="539.5" y1="357.50" x2="537.0" y2="357.50" stroke="#4a4a4a" stroke-width="1"/>
<text x="51.80" y="429.8" font-size="14" text-anchor="middle" fill="#111" stroke="#111" stroke-width="0.2">10</text>
<text x="100.60" y="429.8" font-size="14" text-anchor="middle" fill="#111" stroke="#111" stroke-width="0.2">11</text>
<text x="149.40" y="429.8" font-size="14" text-anchor="middle" fill="#111" stroke="#111" stroke-width="0.2">12</text>
<text x="198.20" y="429.8" font-size="14" text-anchor="middle" fill="#111" stroke="#111" stroke-width="0.2">13</text>
<text x="247.00" y="429.8" font-size="14" text-anchor="middle" fill="#111" stroke="#111" stroke-width="0.2">14</text>
<text x="295.80" y="429.8" font-size="14" text-anchor="middle" fill="#111" stroke="#111" stroke-width="0.2">15</text>
<text x="344.60" y="429.8" font-size="14" text-anchor="middle" fill="#111" stroke="#111" stroke-width="0.2">16</text>
<text x="393.40" y="429.8" font-size="14" text-anchor="middle" fill="#111" stroke="#111" stroke-width="0.2">17</text>
<text x="442.20" y="429.8" font-size="14" text-anchor="middle" fill="#111" stroke="#111" stroke-width="0.2">18</text>
<text x="491.00" y="429.8" font-size="14" text-anchor="middle" fill="#111" stroke="#111" stroke-width="0.2">19</text>
<text x="539.80" y="429.8" font-size="14" text-anchor="middle" fill="#111" stroke="#111" stroke-width="0.2">20</text>
<text x="295.4" y="448.8" font-size="14" text-anchor="middle" fill="#111" stroke="#111" stroke-width="0.25">SNR</text>
<text transform="translate(13.2,212.6) rotate(-90)" font-size="14" text-anchor="middle" fill="#111" stroke="#111" stroke-width="0.25">BER</text>
<text x="46.3" y="16.00" letter-spacing="0.25" font-size="14" text-anchor="end" fill="#111" stroke="#111" stroke-width="0.2">10<tspan font-size="10.5" dy="-5.2">0</tspan></text>
<text x="46.3" y="101.23" letter-spacing="0.25" font-size="14" text-anchor="end" fill="#111" stroke="#111" stroke-width="0.2">10<tspan font-size="10.5" dy="-5.2">−1</tspan></text>
<text x="46.3" y="186.46" letter-spacing="0.25" font-size="14" text-anchor="end" fill="#111" stroke="#111" stroke-width="0.2">10<tspan font-size="10.5" dy="-5.2">−2</tspan></text>
<text x="46.3" y="271.69" letter-spacing="0.25" font-size="14" text-anchor="end" fill="#111" stroke="#111" stroke-width="0.2">10<tspan font-size="10.5" dy="-5.2">−3</tspan></text>
<text x="46.3" y="356.93" letter-spacing="0.25" font-size="14" text-anchor="end" fill="#111" stroke="#111" stroke-width="0.2">10<tspan font-size="10.5" dy="-5.2">−4</tspan></text>
<rect x="60.3" y="254.2" width="175.4" height="149.7" fill="#fff" stroke="#555" stroke-width="1"/>
<line x1="63.6" y1="263.20" x2="100.2" y2="263.20" stroke="#000" stroke-width="1.6"/>
<text x="103.3" y="267.30" font-size="12.12" fill="#000" stroke="#000" stroke-width="0.4">CNN with structure 1</text>
<line x1="63.6" y1="277.89" x2="100.2" y2="277.89" stroke="#000" stroke-width="1.6"/>
<line x1="78.20" y1="277.89" x2="85.80" y2="277.89" stroke="#000" stroke-width="1.4"/><line x1="82.00" y1="274.09" x2="82.00" y2="281.69" stroke="#000" stroke-width="1.4"/><line x1="79.20" y1="275.09" x2="84.80" y2="280.69" stroke="#000" stroke-width="1.4"/><line x1="79.20" y1="280.69" x2="84.80" y2="275.09" stroke="#000" stroke-width="1.4"/>
<text x="103.3" y="281.99" font-size="12.12" fill="#000" stroke="#000" stroke-width="0.4">CNN with structure 2</text>
<line x1="63.6" y1="292.58" x2="100.2" y2="292.58" stroke="#000" stroke-width="1.6"/>
<polygon points="82.00,288.28 85.60,292.58 82.00,296.88 78.40,292.58" fill="none" stroke="#000" stroke-width="1.6"/>
<text x="103.3" y="296.68" font-size="12.12" fill="#000" stroke="#000" stroke-width="0.4">CNN with structure 3</text>
<line x1="63.6" y1="307.27" x2="100.2" y2="307.27" stroke="#000" stroke-width="1.6"/>
<rect x="79.20" y="304.47" width="5.60" height="5.60" fill="none" stroke="#000" stroke-width="1.6"/>
<text x="103.3" y="311.37" font-size="12.12" fill="#000" stroke="#000" stroke-width="0.4">CNN with structure 4</text>
<line x1="63.6" y1="321.96" x2="100.2" y2="321.96" stroke="#000" stroke-width="1.6"/>
<circle cx="82.00" cy="321.96" r="3.6" fill="none" stroke="#000" stroke-width="1.6"/>
<text x="103.3" y="326.06" font-size="12.12" fill="#000" stroke="#000" stroke-width="0.4">CNN with structure 5</text>
<line x1="63.6" y1="336.65" x2="100.2" y2="336.65" stroke="#000" stroke-width="1.6"/>
<polygon points="82.00,331.45 86.20,339.05 77.80,339.05" fill="none" stroke="#000" stroke-width="1.6"/>
<text x="103.3" y="340.75" font-size="12.12" fill="#000" stroke="#000" stroke-width="0.4">CNN with structure 6</text>
<line x1="63.6" y1="351.34" x2="100.2" y2="351.34" stroke="#000" stroke-width="1.6"/>
<polygon points="82.00,346.24 83.15,349.76 86.85,349.76 83.85,351.94 85.00,355.47 82.00,353.29 79.00,355.47 80.15,351.94 77.15,349.76 80.85,349.76" fill="#000" stroke="#000" stroke-width="0.8"/>
<text x="103.3" y="355.44" font-size="12.12" fill="#000" stroke="#000" stroke-width="0.4">CNN with structure 7</text>
<line x1="63.6" y1="366.03" x2="100.2" y2="366.03" stroke="#000" stroke-width="1.6"/>
<polygon points="82.00,362.23 83.10,364.13 85.29,364.13 84.19,366.03 85.29,367.93 83.10,367.93 82.00,369.83 80.90,367.93 78.71,367.93 79.81,366.03 78.71,364.13 80.90,364.13" fill="none" stroke="#000" stroke-width="1.7"/>
<text x="103.3" y="370.13" font-size="12.12" fill="#000" stroke="#000" stroke-width="0.4">CNN with structure 8</text>
<line x1="63.6" y1="380.72" x2="99" y2="380.72" stroke="#000" stroke-width="1.6" stroke-dasharray="4.3 2.87"/>
<text x="103.3" y="384.82" font-size="12.12" fill="#000" stroke="#000" stroke-width="0.4">Conventional equalizer</text>
<line x1="63.6" y1="395.41" x2="99" y2="395.41" stroke="#000" stroke-width="1.6" stroke-dasharray="4.3 2.87"/>
<polygon points="82.00,390.21 86.20,397.81 77.80,397.81" fill="none" stroke="#000" stroke-width="1.6"/>
<text x="103.3" y="399.51" font-size="12.12" fill="#000" stroke="#000" stroke-width="0.4">DFE with reliability factor</text>
</svg>
</body></html>
